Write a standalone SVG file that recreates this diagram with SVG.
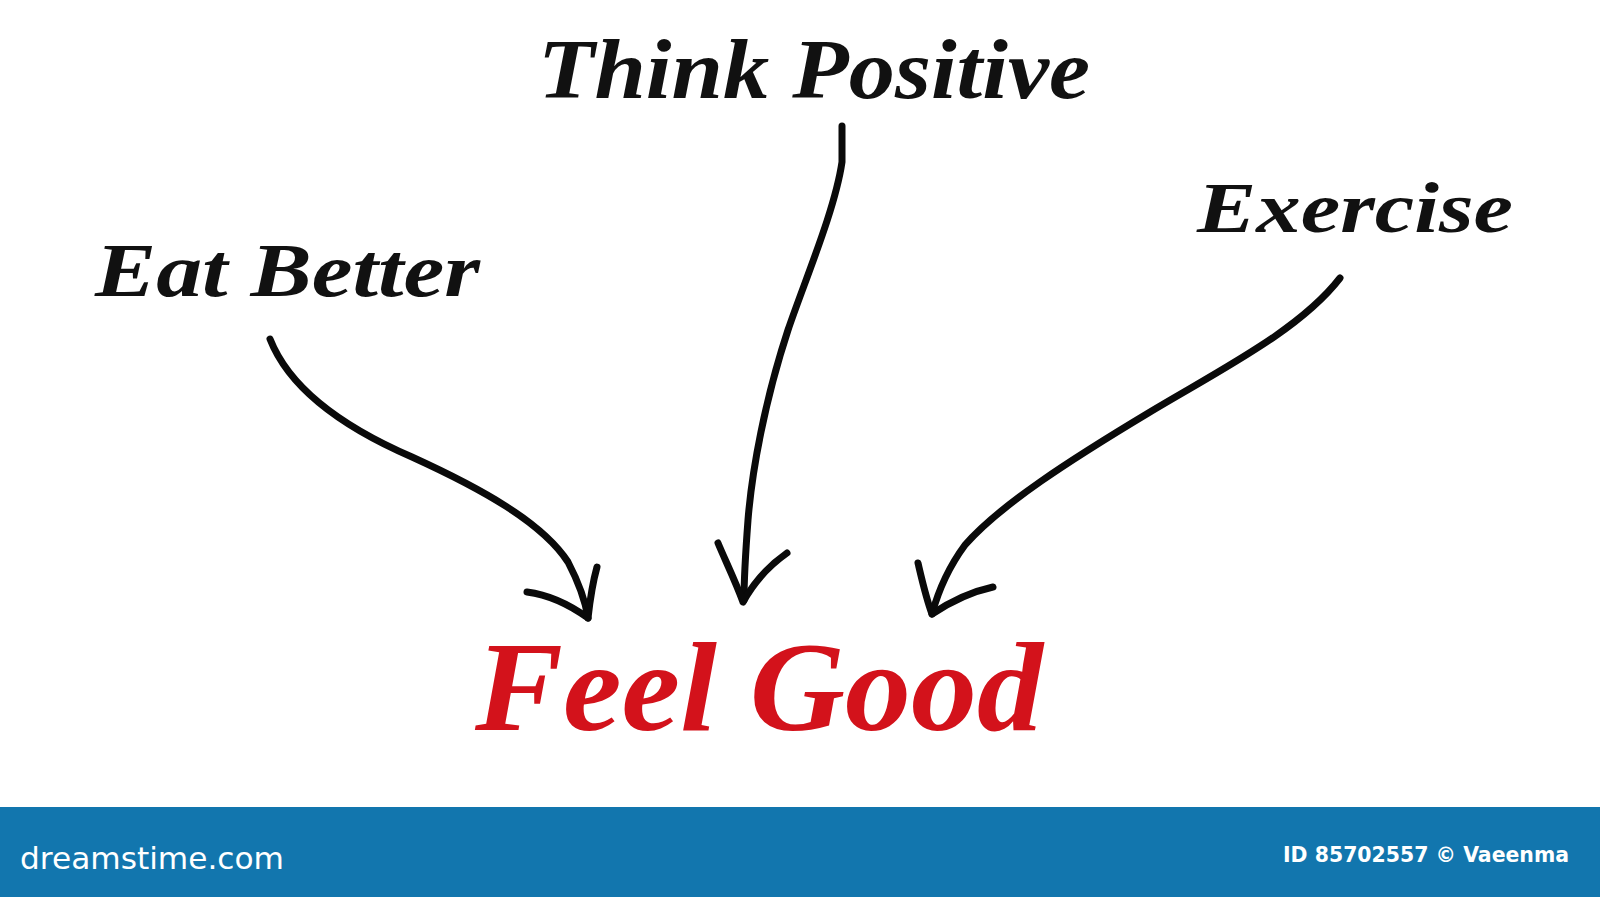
<svg xmlns="http://www.w3.org/2000/svg" width="1600" height="897" viewBox="0 0 1600 897">
<style>
.lbl{font-family:"Liberation Serif","DejaVu Serif",serif;font-style:italic;font-weight:bold;fill:#111}
.main{font-family:"Liberation Serif","DejaVu Serif",serif;font-style:italic;font-weight:bold;fill:#d3121b}
.arr{fill:none;stroke:#0a0a0a;stroke-width:7;stroke-linecap:round;stroke-linejoin:round}
.foot{font-family:"DejaVu Sans","Liberation Sans",sans-serif;fill:#fff}
</style>
<rect width="1600" height="897" fill="#fff"/>
<g id="node-think-positive"><text class="lbl" x="538" y="98" font-size="84" textLength="552" lengthAdjust="spacingAndGlyphs">Think Positive</text></g>
<g id="node-eat-better"><text class="lbl" x="95" y="296" font-size="76" textLength="385" lengthAdjust="spacingAndGlyphs">Eat Better</text></g>
<g id="node-exercise"><text class="lbl" x="1197" y="232" font-size="72" textLength="316" lengthAdjust="spacingAndGlyphs">Exercise</text></g>
<g id="node-feel-good"><text class="main" x="475" y="730" font-size="126" textLength="568" lengthAdjust="spacingAndGlyphs">Feel Good</text></g>
<g id="connectors">
<path class="arr" d="M270,339 C290,390 345,428 412,457 C480,488 542,522 568,562 C580,585 586,605 588,618"/>
<path class="arr" d="M527,592 C550,595 570,605 588,618 M597,567 C592,585 590,600 588,618"/>
<path class="arr" d="M842,126 L842,162 C835,210 805,280 788,330 C765,400 752,470 748,520 C745,560 744,585 744,600"/>
<path class="arr" d="M718,543 C725,560 735,580 743,602 M787,553 C770,565 755,580 743,602"/>
<path class="arr" d="M1340,278 C1300,330 1220,370 1150,412 C1070,460 1000,505 965,545 C948,568 938,592 932,614"/>
<path class="arr" d="M918,563 C922,580 926,598 932,614 M993,587 C970,592 950,602 932,614"/>
</g>
<g id="footer">
<rect x="0" y="807" width="1600" height="90" fill="#1276ae"/>
<text class="foot" x="20" y="869" font-size="31" textLength="264" lengthAdjust="spacingAndGlyphs">dreamstime.com</text>
<text class="foot" x="1283" y="862" font-size="22" font-weight="bold" textLength="286" lengthAdjust="spacingAndGlyphs">ID 85702557 © Vaeenma</text>
</g>
</svg>
